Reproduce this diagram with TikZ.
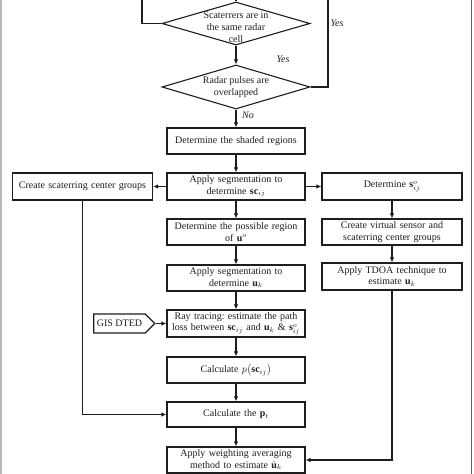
\documentclass[tikz,border=0pt]{standalone}
\usepackage{fontspec}
\setmainfont{Liberation Serif}
\usetikzlibrary{shapes.geometric,shapes.symbols,arrows.meta}
\definecolor{ink}{HTML}{1E1E1E}
\frenchspacing
\tikzset{
  box/.style={draw=ink, line width=1.1pt, rectangle, inner sep=1pt, font=\fontsize{10}{11.5}\selectfont, text=ink, align=center},
  mainbox/.style={box, minimum width=138pt, minimum height=26pt, text width=134pt},
  sidebox/.style={box, minimum width=140pt, minimum height=27pt, text width=136pt},
  dia/.style={draw=ink, line width=1.1pt, diamond, inner sep=0pt, minimum width=148pt, minimum height=43pt},
  txt/.style={font=\fontsize{10}{12}\selectfont, text=ink, align=center, inner sep=0pt},
  lbl/.style={font=\fontsize{10}{12}\selectfont\itshape, text=ink, inner sep=0pt},
  conn/.style={draw=ink, line width=1.1pt},
  arr/.style={conn, -{Latex[length=5pt,width=4.5pt]}},
}
\begin{document}
\begin{tikzpicture}[x=1pt,y=-1pt]
\useasboundingbox (0,0) rectangle (474,474);
\fill[white] (0,0) rectangle (474,474);
% frame edges
\draw[gray!55, line width=2.2pt] (1.1,0) -- (1.1,474);
\draw[gray!80!black, line width=1.6pt] (471.6,0) -- (471.6,474);

% decisions
\node[dia] (d1) at (236,23.5) {};
\node[txt] (d1t) at (236,27) {Scaterrers are in\\the same radar\\cell};
\node[dia, minimum height=44pt] (d2) at (236,87) {};
\node[txt] (d2t) at (236,87) {Radar pulses are\\overlapped};

% main column
\node[mainbox] (shade) at (236,141) {Determine the shaded regions};
\node[mainbox, minimum height=27pt] (seg) at (236,186.5) {Apply segmentation to\\determine $\mathbf{sc}_{ij}$};
\node[mainbox] (poss) at (236,232) {Determine the possible region\\of $\mathbf{u}^{o}$};
\node[mainbox] (segu) at (236,278) {Apply segmentation to\\determine $\mathbf{u}_{k}$};
\node[mainbox, minimum height=27pt] (ray) at (236,323.5) {Ray tracing: estimate the path\\loss between $\mathbf{sc}_{ij}$ and $\mathbf{u}_{k}$ \& $\mathbf{s}_{ij}^{o}$};
\node[mainbox] (calcp) at (236,370) {Calculate $p\big(\mathbf{sc}_{ij}\big)$};
\node[mainbox, minimum height=25pt] (pt) at (236,414.5) {Calculate the $\mathbf{p}_{t}$};
\node[mainbox] (final) at (236,460) {Apply weighting averaging\\method to estimate $\hat{\mathbf{u}}_{k}$};

% side columns
\node[sidebox] (left) at (82.5,186.5) {Create scaterring center groups};
\node[sidebox] (right) at (392,186.5) {Determine $\mathbf{s}_{ij}^{o}$};
\node[sidebox, minimum height=26pt] (virt) at (392,232) {Create virtual sensor and\\scaterring center groups};
\node[sidebox] (tdoa) at (392,276.5) {Apply TDOA technique to\\estimate $\mathbf{u}_{k}$};

% GIS DTED
\node[draw=ink, line width=1.1pt, signal, signal to=east, minimum width=61pt, minimum height=19pt, inner sep=1pt, font=\fontsize{10}{12}\selectfont, text=ink] (gis) at (119.5,323.5) {GIS DTED};

% labels
\node[lbl] (yes1) at (337,23) {Yes};
\node[lbl] (yes2) at (283,59) {Yes};
\node[lbl] (no) at (248,115) {No};

% loop-back lines (cut off at top)
\coordinate (topin) at (236,0);
\coordinate (lefttop) at (142,0);
\coordinate (righttop) at (328,0);
\draw[conn] (topin) -- (d1.north);
\draw[conn] (d1.west) -- (d1.west -| lefttop) -- (lefttop);
\draw[conn] (d2.east) -- (d2.east -| righttop) -- (righttop);

% arrows
\draw[arr] (d1.south) -- (d2.north);
\draw[arr] (d2.south) -- (shade.north);
\draw[arr] (shade) -- (seg);
\draw[arr] (seg.west) -- (left.east);
\draw[arr] (seg.east) -- (right.west);
\draw[arr] (seg) -- (poss);
\draw[arr] (poss) -- (segu);
\draw[arr] (segu) -- (ray);
\draw[arr] (ray) -- (calcp);
\draw[arr] (calcp) -- (pt);
\draw[arr] (pt) -- (final);
\draw[arr] (right) -- (virt);
\draw[arr] (virt) -- (tdoa);
\draw[arr] (gis.east) -- (gis.east -| ray.west);
\draw[arr] (left.south) |- (pt.west);
\draw[arr] (tdoa.south) |- (final.east);
\end{tikzpicture}
\end{document}
